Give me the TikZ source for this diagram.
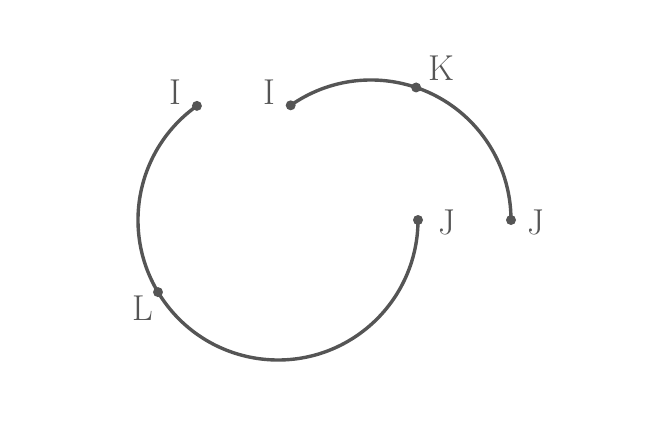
\documentclass[tikz,border=0pt]{standalone}
\usetikzlibrary{calc}
\definecolor{ink}{HTML}{555555}
\begin{document}
\begin{tikzpicture}[x=1pt,y=1pt,
  arcline/.style={draw=ink,line width=3.4pt},
  dot/.style={circle,fill=ink,inner sep=0pt,minimum size=10pt},
  lbl/.style={text=ink,inner sep=0pt,font=\fontsize{36}{40}\selectfont}]
\useasboundingbox (0,0) rectangle (650,440);
\coordinate (c1) at (278,220);
\coordinate (c2) at (371,220);
\coordinate (Ia) at ($(c1)+(125.4:140)$);
\coordinate (L) at ($(c1)+(211:140)$);
\coordinate (Ja) at ($(c1)+(0:140)$);
\coordinate (Ib) at ($(c2)+(125:140)$);
\coordinate (K) at ($(c2)+(71.2:140)$);
\coordinate (Jb) at ($(c2)+(0:140)$);
\draw[arcline] (Ia) arc[start angle=125.4, end angle=360, radius=140];
\draw[arcline] (Ib) arc[start angle=125, end angle=0, radius=140];
\foreach \p in {Ia,L,Ja,Ib,K,Jb} \node[dot] at (\p) {};
\node[lbl] (tIa) at (175,348) {I};
\node[lbl] (tIb) at (269,348) {I};
\node[lbl] (tK) at (441,372) {K};
\node[lbl] (tJa) at (447,218) {J};
\node[lbl] (tJb) at (536,218) {J};
\node[lbl] (tL) at (143,132) {L};
\end{tikzpicture}
\end{document}
